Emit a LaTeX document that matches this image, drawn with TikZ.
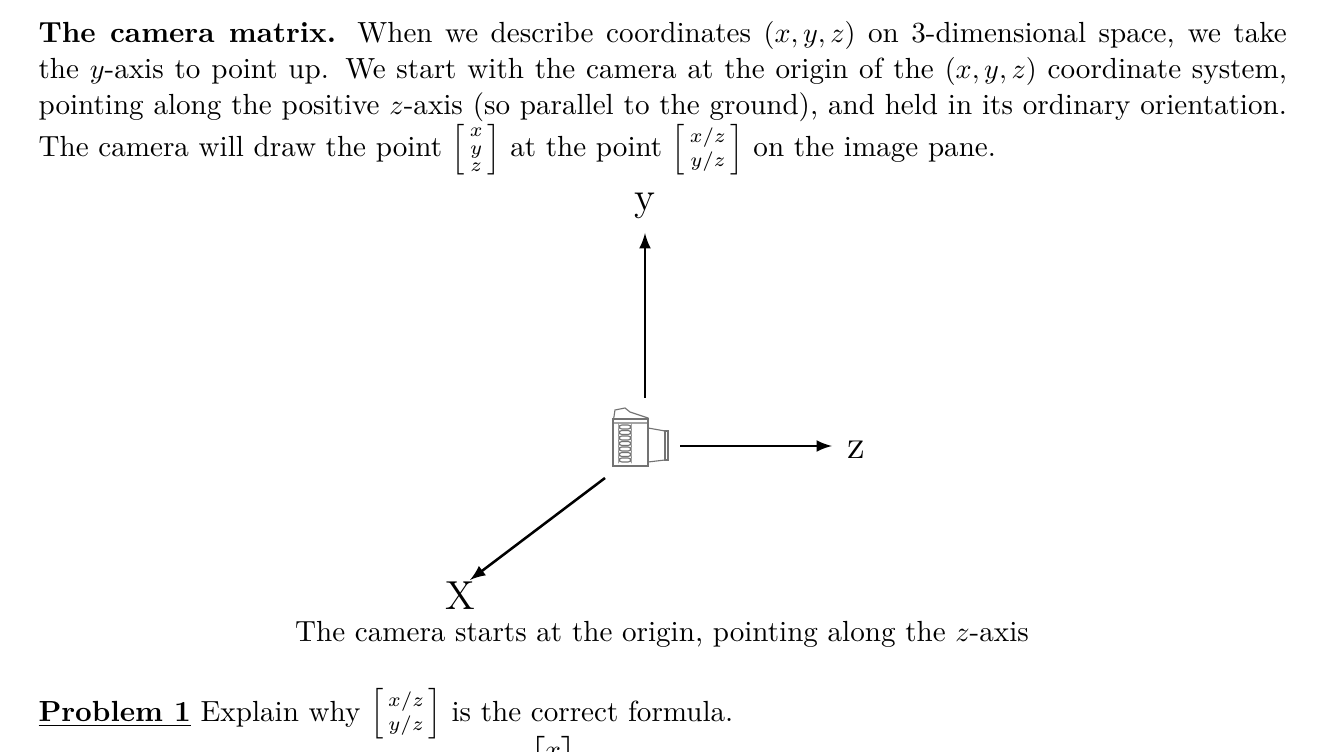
\documentclass[tikz,border=0pt]{standalone}
\usepackage{amsmath}
\begin{document}
\fontsize{10.35}{12.75}\selectfont
\begin{tikzpicture}[x=0.0125cm,y=-0.0125cm,
  ax/.style={-latex,line width=0.9pt},
  cam/.style={draw=black!55,line width=0.4pt},
  lbl/.style={font=\Large,inner sep=0}]
\clip (0,0) rectangle (1334,752);
\useasboundingbox (0,0) rectangle (1334,752);
\node[anchor=north west,inner sep=0,text width=15.6cm,align=justify] (para) at (38,21)
{\textbf{The camera matrix.} When we describe coordinates $(x,y,z)$ on 3-dimensional space, we take\linebreak the $y$-axis to point up. We start with the camera at the origin of the $(x,y,z)$ coordinate system,\linebreak pointing along the positive $z$-axis (so parallel to the ground), and held in its ordinary orientation.\linebreak The camera will draw the point $\left[\begin{smallmatrix}x\\y\\z\end{smallmatrix}\right]$ at the point $\left[\begin{smallmatrix}x/z\\y/z\end{smallmatrix}\right]$ on the image pane.};
% camera
\draw[cam] (613,419) rectangle (648,466);
\draw[cam] (615,410) -- (625,408) -- (630,412) -- (648,418) -- (648,423) -- (613,423) -- cycle;
\draw[cam] (648,428) -- (665,431) -- (665,460) -- (648,462);
\draw[cam] (665,431) rectangle (668,460);
\foreach \k in {0,...,6} \draw[cam,rounded corners=1pt] (619,{425+\k*5.5}) rectangle (631,{429+\k*5.5});
\coordinate (ys) at (645,398); \coordinate (ye) at (645,233);
\coordinate (zs) at (680,446); \coordinate (ze) at (832,446);
\coordinate (xs) at (605,478); \coordinate (xe) at (470,580);
\draw[ax] (ys) -- (ye);
\draw[ax] (zs) -- (ze);
\draw[ax] (xs) -- (xe);
\node[lbl] (ly) at (645,206) {y};
\node[lbl] (lz) at (856,450) {z};
\node[lbl] (lx) at (460,596) {X};
\node (cap) at (662,634) {The camera starts at the origin, pointing along the $z$-axis};
\node[anchor=west,inner sep=0] (prob) at (38,714) {\underline{\textbf{Problem 1}} Explain why $\left[\begin{smallmatrix}x/z\\y/z\end{smallmatrix}\right]$ is the correct formula.};
\node (cut) at (553,770) {$\begin{bmatrix}x\\y\end{bmatrix}$};
\end{tikzpicture}
\end{document}
